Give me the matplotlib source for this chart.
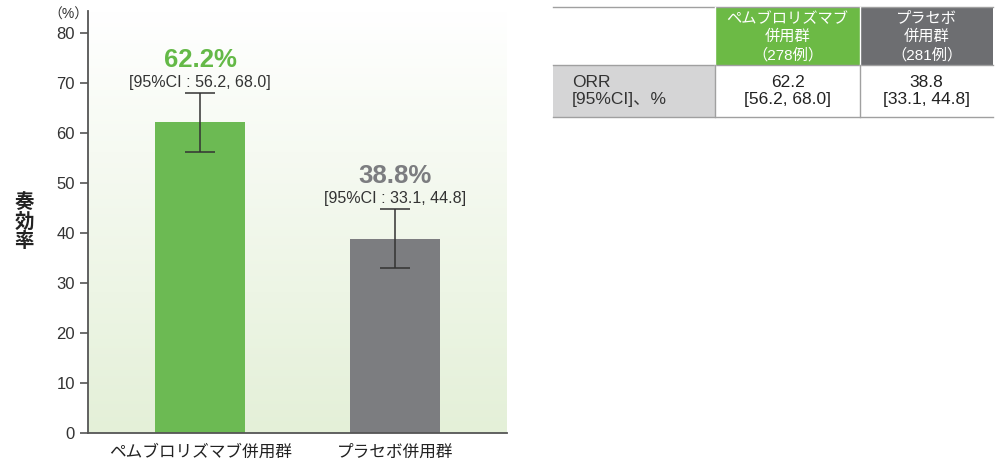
import numpy as np
import matplotlib.pyplot as plt
from matplotlib.patches import Rectangle

plt.rcParams['font.family'] = ['Liberation Sans', 'Noto Sans CJK JP', 'DejaVu Sans']

# data
groups = ['ペムブロリズマブ併用群', 'プラセボ併用群']
header_names = ['ペムブロリズマブ\n併用群', 'プラセボ\n併用群']
n_patients = [278, 281]
orr = [62.2, 38.8]
ci_low = [56.2, 33.1]
ci_high = [68.0, 44.8]
yticks = [0, 10, 20, 30, 40, 50, 60, 70, 80]

bar_colors = ['#6cba53', '#7c7d80']
label_colors = ['#64b947', '#7c7d80']
header_colors = ['#6cba45', '#6d6e71']

W, H = 1000, 472
fig = plt.figure(figsize=(10, 4.72), dpi=100)

# ---- bar chart
ax = fig.add_axes([88 / W, (H - 433) / H, 419 / W, 422 / H])
x = np.arange(len(groups))
ax.set_xlim(-0.575, 1.575)
ax.set_ylim(0, 84.4)

# green gradient background (green at the bottom, white at the top)
grad = np.linspace(1, 0, 256).reshape(-1, 1, 1)
bottom_c = np.array([228, 240, 216]) / 255
top_c = np.array([255, 255, 255]) / 255
img = grad * bottom_c + (1 - grad) * top_c
ax.imshow(img, extent=[-0.575, 1.575, 0, 84.4], aspect='auto', zorder=0, origin='lower')

ax.bar(x, orr, width=0.46, color=bar_colors, zorder=2)
yerr = [np.array(orr) - np.array(ci_low), np.array(ci_high) - np.array(orr)]
ax.errorbar(x, orr, yerr=yerr, fmt='none', ecolor='#333333', elinewidth=1.1,
            capsize=10.5, capthick=1.1, zorder=3)

for i in range(len(groups)):
    ax.text(x[i], ci_high[i] + 6.6, f'{orr[i]}%', ha='center', va='center',
            fontsize=18.5, fontweight='bold', color=label_colors[i])
    ax.text(x[i], ci_high[i] + 2.2, f'[95%CI : {ci_low[i]}, {ci_high[i]}]',
            ha='center', va='center', fontsize=11.5, color='#333333')

ax.set_yticks(yticks)
ax.set_xticks(x)
ax.set_xticklabels(groups, fontsize=12, color='#222222')
ax.tick_params(axis='y', labelsize=12, length=6, width=1.2, color='#555555', labelcolor='#333333')
ax.tick_params(axis='x', length=0, pad=8)
for s in ['top', 'right']:
    ax.spines[s].set_visible(False)
for s in ['left', 'bottom']:
    ax.spines[s].set_color('#555555')
    ax.spines[s].set_linewidth(1.3)

fig.text(68 / W, 1 - 15 / H, '（%）', ha='center', va='center', fontsize=10, color='#333333')
fig.text(24 / W, 1 - 222 / H, '奏\n効\n率', ha='center', va='center', fontsize=14,
         fontweight='bold', linespacing=1.05, color='#222222')

# ---- table
tx = fig.add_axes([0, 0, 1, 1], zorder=5)
tx.set_xlim(0, W)
tx.set_ylim(H, 0)
tx.axis('off')

col_x = [553, 715, 860, 993]
row_y = [7, 65, 117]
for i in range(len(groups)):
    tx.add_patch(Rectangle((col_x[i + 1], row_y[0]), col_x[i + 2] - col_x[i + 1],
                           row_y[1] - row_y[0], color=header_colors[i], lw=0))
    cx = (col_x[i + 1] + col_x[i + 2]) / 2
    tx.text(cx, (row_y[0] + row_y[1]) / 2 + 1, f'{header_names[i]}\n（{n_patients[i]}例）',
            ha='center', va='center', fontsize=11, color='white', linespacing=1.32)
    tx.text(cx, (row_y[1] + row_y[2]) / 2, f'{orr[i]}\n[{ci_low[i]}, {ci_high[i]}]',
            ha='center', va='center', fontsize=12.5, color='#222222', linespacing=1.15)
tx.add_patch(Rectangle((col_x[0], row_y[1]), col_x[1] - col_x[0], row_y[2] - row_y[1],
                       color='#d5d5d6', lw=0))
tx.text(572, (row_y[1] + row_y[2]) / 2, 'ORR\n[95%CI]、%', ha='left', va='center',
        fontsize=12.5, color='#333333', linespacing=1.15)
for yy in row_y:
    tx.plot([col_x[0], col_x[-1]], [yy, yy], color='#a0a0a0', lw=1)
for xx in col_x[1:3]:
    tx.plot([xx, xx], [row_y[0], row_y[1]], color='white', lw=1)
    tx.plot([xx, xx], [row_y[1], row_y[2]], color='#a0a0a0', lw=1)

fig.savefig('out.png', dpi=100)
